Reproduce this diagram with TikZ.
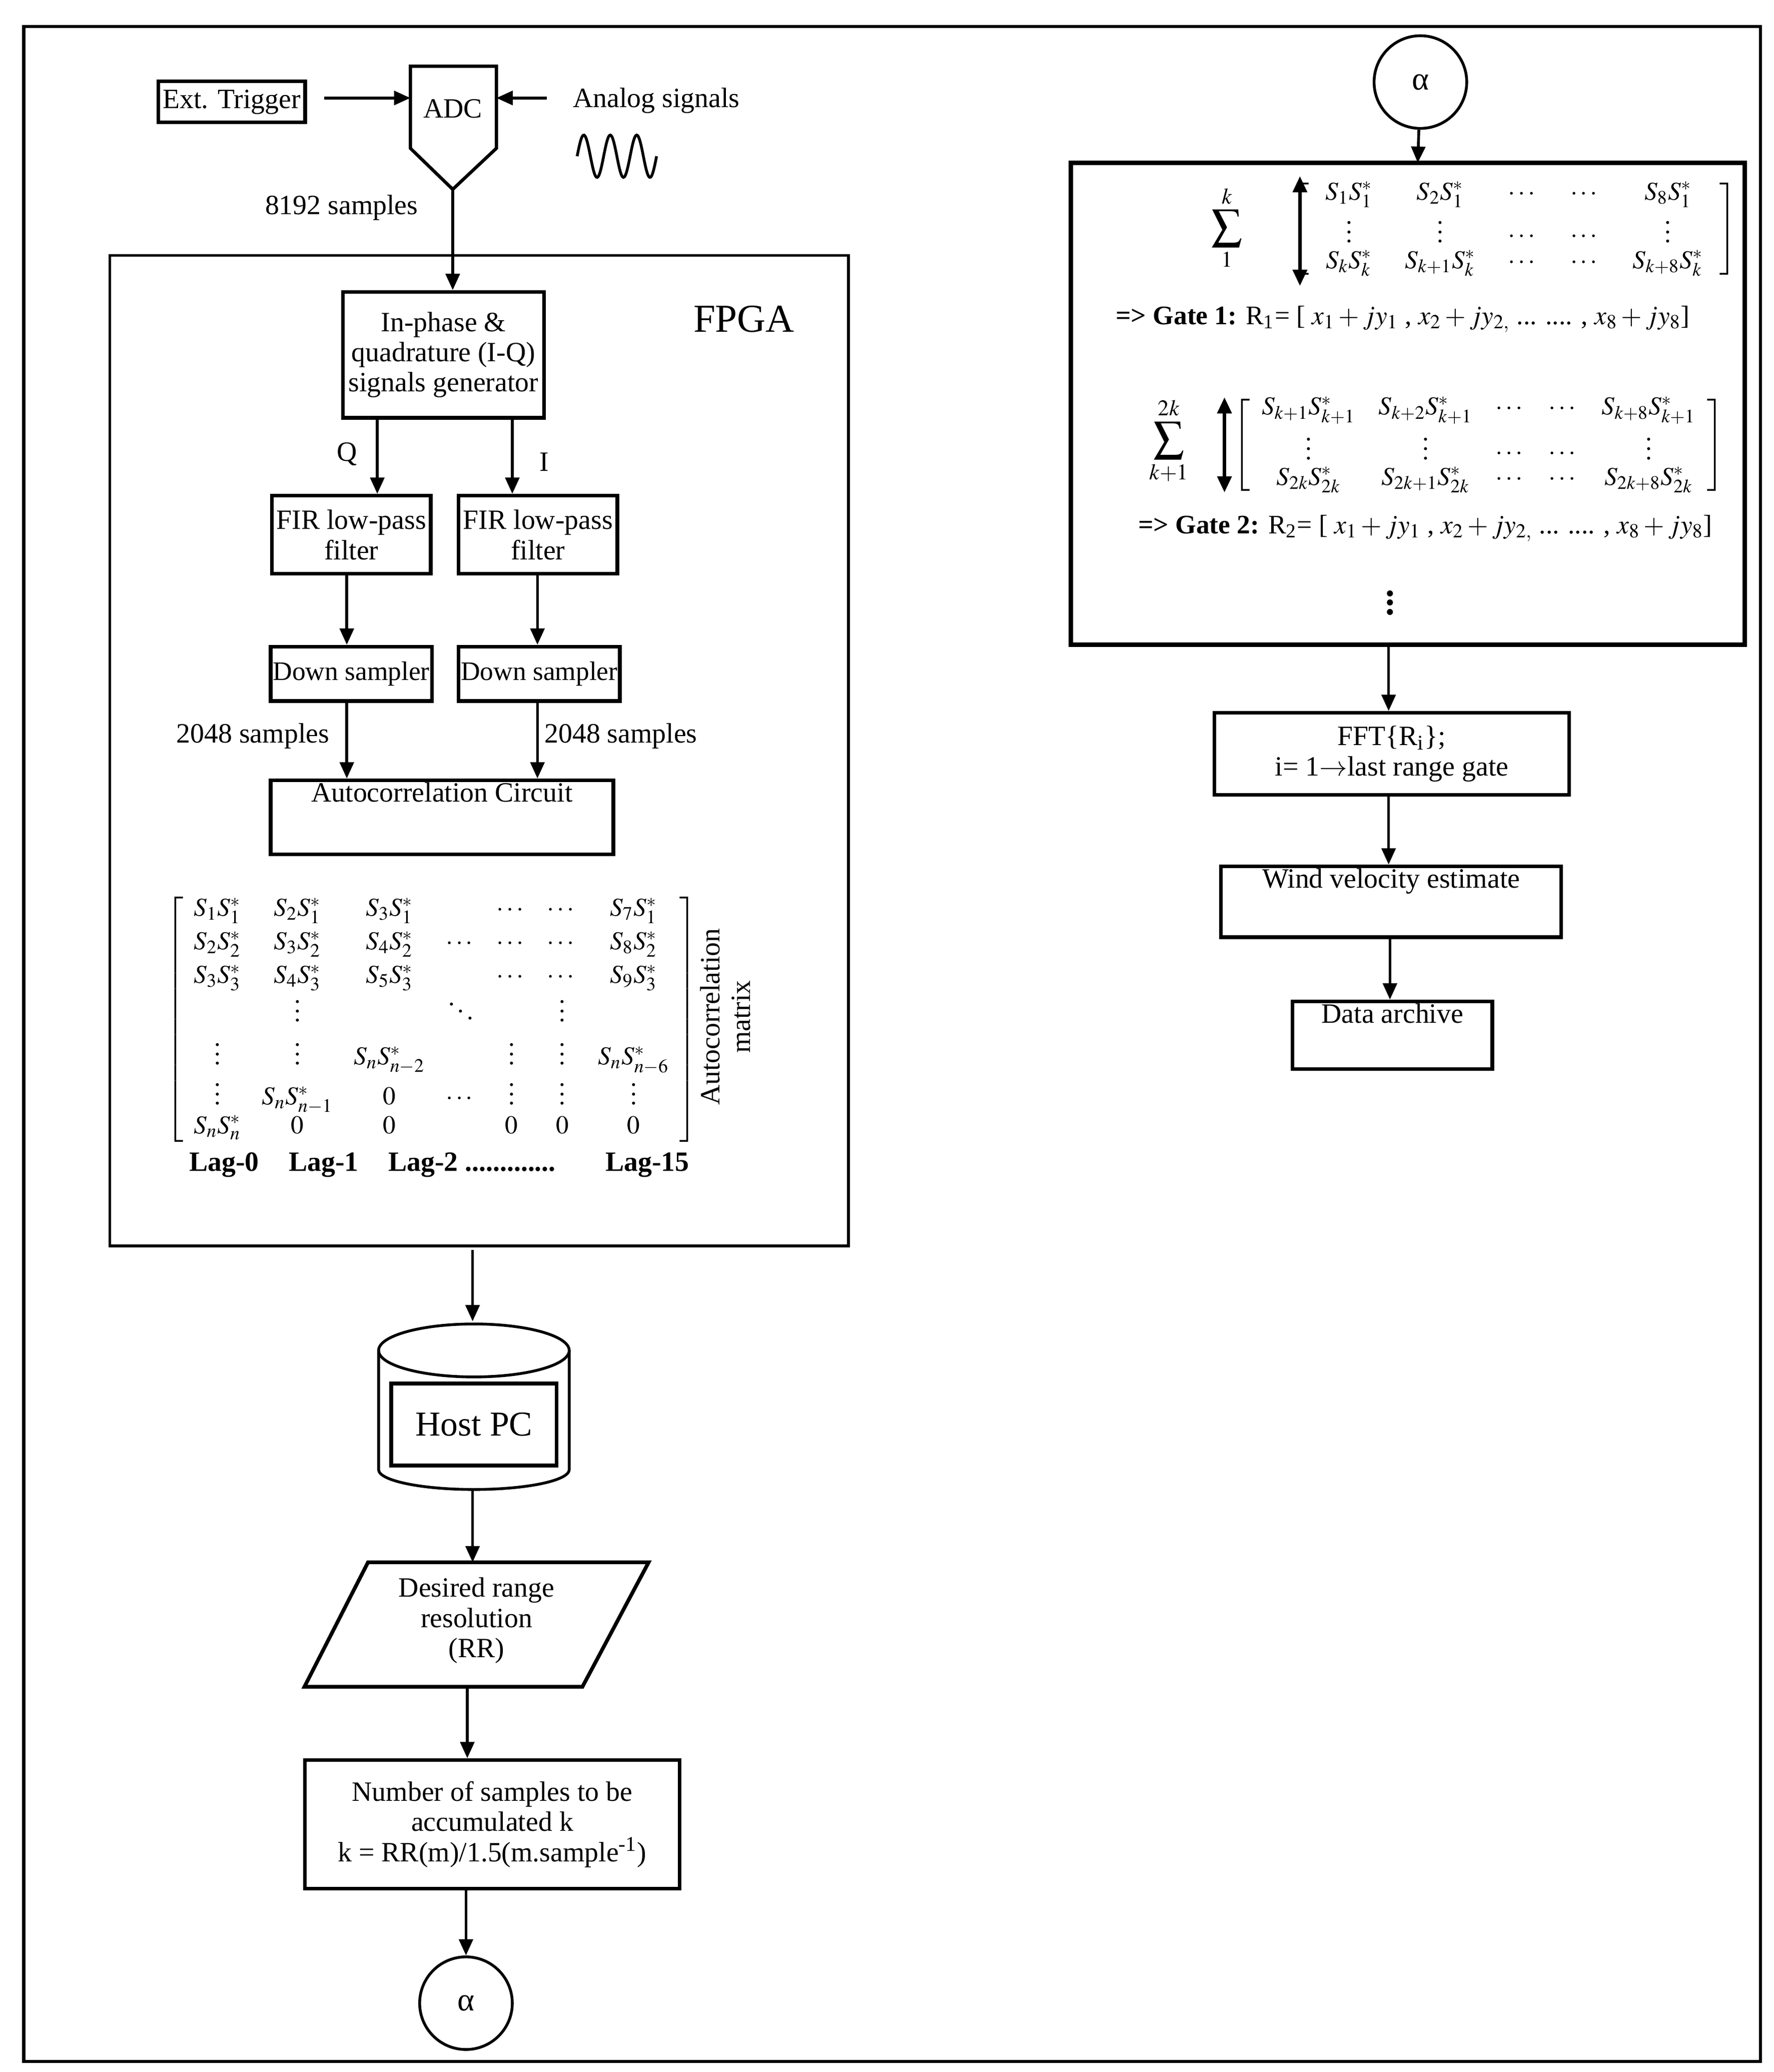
\documentclass[tikz,border=0pt]{standalone}
\usepackage{amsmath}
\usepackage{mathptmx}
\usepackage{fontspec}
\setmainfont{Liberation Serif}
\usetikzlibrary{arrows.meta}
\begin{document}
\begin{tikzpicture}[x=0.02cm, y=-0.02cm, line width=1.2pt,
  box/.style={draw, line width=1.6pt, align=center, font=\fontsize{12}{13}\selectfont, inner sep=1pt},
  lbl/.style={font=\fontsize{12}{13}\selectfont, align=center},
  arr/.style={-{Triangle[length=7pt,width=6pt]}, line width=1.2pt},
  dbl/.style={{Triangle[length=7pt,width=6pt]}-{Triangle[length=7pt,width=6pt]}, line width=1.6pt}]
% frame
\draw[line width=1.4pt] (18,20) rectangle (1330,1557);
\useasboundingbox (0,0) rectangle (1340,1565);
% ---------- left column
\node[box, minimum width=2.22cm, minimum height=0.62cm] (trig) at (175,77) {Ext. Trigger};
\draw[line width=1.4pt] (310,50) -- (375,50) -- (375,112) -- (342,143) -- (310,112) -- cycle;
\coordinate (adcW) at (310,74); \coordinate (adcE) at (375,74); \coordinate (adcS) at (342,143);
\node[lbl] (adc) at (342,82) {ADC};
\coordinate (trigE) at (245,74);
\draw[arr] (trigE) -- (adcW);
\node[lbl, anchor=west] (ana) at (426,76) {Analog signals};
\coordinate (anaW) at (413,74);
\draw[arr] (anaW) -- (adcE);
\draw[line width=1.2pt, domain=0:3*360, samples=80, smooth] plot ({436+\x/360*20},{118-16*sin(\x)});
\node[lbl] (s8192) at (258,157) {8192 samples};
% FPGA
\draw[line width=1.2pt] (83,193) rectangle (641,941);
\node[font=\fontsize{17}{18}\selectfont] (fpga) at (562,241) {FPGA};
\node[box, minimum width=3.04cm, minimum height=1.9cm] (iq) at (335,268) {In-phase \&\\quadrature (I-Q)\\signals generator};
\draw[arr] (adcS) -- (iq.north -| adcS);
\node[box, minimum width=2.4cm, minimum height=1.18cm, anchor=north west] (fir1) at (204,373) {FIR low-pass\\filter};
\node[box, minimum width=2.4cm, minimum height=1.18cm, anchor=north west] (fir2) at (345,373) {FIR low-pass\\filter};
\draw[arr] (iq.south -| 285,0) -- (fir1.north -| 285,0);
\draw[arr] (iq.south -| 387,0) -- (fir2.north -| 387,0);
\node[lbl] (q) at (262,343) {Q};
\node[lbl] (i) at (411,349) {I};
\node[box, minimum width=2.38cm, minimum height=0.82cm, anchor=north west, font=\fontsize{11.5}{12}\selectfont] (ds1) at (203,487) {Down sampler};
\node[box, minimum width=2.4cm, minimum height=0.82cm, anchor=north west, font=\fontsize{11.5}{12}\selectfont] (ds2) at (345,487) {Down sampler};
\draw[arr] (fir1.south -| 262,0) -- (ds1.north -| 262,0);
\draw[arr] (fir2.south -| 406,0) -- (ds2.north -| 406,0);
\node[box, minimum width=5.18cm, minimum height=0.92cm, anchor=north west] (ac) at (203,588) {Autocorrelation Circuit\\[0.3cm]};
\draw[arr] (ds1.south -| 262,0) -- (ac.north -| 262,0);
\draw[arr] (ds2.south -| 406,0) -- (ac.north -| 406,0);
\node[lbl] (n2048a) at (191,556) {2048 samples};
\node[lbl] (n2048b) at (469,556) {2048 samples};
% matrix
\node (mat) at (326,770) {\fontsize{11}{12}\selectfont$\setlength{\arraycolsep}{4.5pt}\renewcommand{\arraystretch}{0.95}
\left[\begin{array}{ccccccc}
S_1S_1^* & S_2S_1^* & S_3S_1^* & & \cdots & \cdots & S_7S_1^*\\[3pt]
S_2S_2^* & S_3S_2^* & S_4S_2^* & \cdots & \cdots & \cdots & S_8S_2^*\\[3pt]
S_3S_3^* & S_4S_3^* & S_5S_3^* & & \cdots & \cdots & S_9S_3^*\\[-2pt]
 & \vdots & & \ddots & & \vdots & \\
\vdots & \vdots & S_nS_{n-2}^* & & \vdots & \vdots & S_nS_{n-6}^*\\[-2pt]
\vdots & S_nS_{n-1}^* & 0 & \cdots & \vdots & \vdots & \vdots\\[1pt]
S_nS_n^* & 0 & 0 & & 0 & 0 & 0
\end{array}\right]$};
\node[lbl, rotate=90] (matl) at (548,768) {Autocorrelation\\matrix};
\node[lbl, font=\bfseries\fontsize{12}{13}\selectfont, anchor=west] (lags) at (136,880) {Lag-0\hspace{0.45cm}Lag-1\hspace{0.45cm}Lag-2 .............\hspace{0.75cm}Lag-15};
% Host PC
\coordinate (fpgaS) at (357,944);
\coordinate (pcN) at (357,998);
\draw[arr] (fpgaS) -- (pcN);
\draw[line width=1.2pt] (286,1020) -- (286,1110) arc[start angle=180, end angle=360, x radius=72, y radius=-15] -- (430,1020);
\draw[line width=1.2pt] (358,1020) ellipse[x radius=72, y radius=20];
\node[box, minimum width=2.5cm, minimum height=1.24cm, font=\fontsize{15}{16}\selectfont] (pc) at (358,1076) {Host PC};
\coordinate (pcS) at (357,1125);
\coordinate (rrN) at (357,1180);
\draw[arr] (pcS) -- (rrN);
\draw[line width=1.6pt] (278,1180) -- (490,1180) -- (440,1274) -- (230,1274) -- cycle;
\node[lbl] (rr) at (360,1224) {Desired range\\resolution\\(RR)};
\coordinate (rrS) at (353,1274);
\node[box, minimum width=5.66cm, minimum height=1.94cm, anchor=north west] (num) at (229,1328) {Number of samples to be\\accumulated k\\k = RR(m)/1.5(m.sample\textsuperscript{-1})};
\draw[arr] (rrS) -- (num.north -| rrS);
\node[draw, circle, minimum size=1.4cm, line width=1.2pt, font=\fontsize{14}{15}\selectfont] (al1) at (352,1513) {α};
\draw[arr] (num.south -| al1) -- (al1);
% ---------- right column
\node[draw, circle, minimum size=1.4cm, line width=1.2pt, font=\fontsize{14}{15}\selectfont] (al2) at (1073,62) {α};
\draw[line width=1.8pt] (809,123) rectangle (1318,487);
\coordinate (bigN) at (1071,123);
\coordinate (bigS) at (1049,487);
\draw[arr] (al2) -- (bigN);
\node (sum1) at (927,172) {\fontsize{13}{14}\selectfont$\displaystyle\sum_1^k$};
\coordinate (d1a) at (982,133); \coordinate (d1b) at (982,216);
\draw[dbl] (d1a) -- (d1b);
\node (m1) at (1144,173) {\fontsize{11}{12}\selectfont$\setlength{\arraycolsep}{7pt}\renewcommand{\arraystretch}{0.9}
\left[\begin{array}{ccccc}
S_1S_1^* & S_2S_1^* & \cdots & \cdots & S_8S_1^*\\
\vdots & \vdots & \cdots & \cdots & \vdots\\
S_kS_k^* & S_{k+1}S_k^* & \cdots & \cdots & S_{k+8}S_k^*
\end{array}\right]$};
\node[lbl, anchor=west, font=\fontsize{11.5}{12}\selectfont] (g1) at (836,241) {\textbf{=> Gate 1:} R\textsubscript{1}= [ $x_1+jy_1$ , $x_2+jy_{2,}$ ... .... , $x_8+jy_8$]};
\node (sum2) at (883,333) {\fontsize{13}{14}\selectfont$\displaystyle\sum_{k+1}^{2k}$};
\coordinate (d2a) at (925,300); \coordinate (d2b) at (925,372);
\draw[dbl] (d2a) -- (d2b);
\node (m2) at (1117,336) {\fontsize{11}{12}\selectfont$\setlength{\arraycolsep}{5pt}\renewcommand{\arraystretch}{0.9}
\left[\begin{array}{ccccc}
S_{k+1}S_{k+1}^* & S_{k+2}S_{k+1}^* & \cdots & \cdots & S_{k+8}S_{k+1}^*\\
\vdots & \vdots & \cdots & \cdots & \vdots\\
S_{2k}S_{2k}^* & S_{2k+1}S_{2k}^* & \cdots & \cdots & S_{2k+8}S_{2k}^*
\end{array}\right]$};
\node[lbl, anchor=west, font=\fontsize{11.5}{12}\selectfont] (g2) at (853,399) {\textbf{=> Gate 2:} R\textsubscript{2}= [ $x_1+jy_1$ , $x_2+jy_{2,}$ ... .... , $x_8+jy_8$]};
\node[font=\bfseries\fontsize{16}{17}\selectfont] (vd) at (1050,450) {$\vdots$};
\node[box, minimum width=5.36cm, minimum height=1.24cm, anchor=north west] (fft) at (916,537) {FFT\{R\textsubscript{i}\};\\i= 1$\rightarrow$last range gate};
\draw[arr] (bigS) -- (fft.north -| bigS);
\node[box, minimum width=5.14cm, minimum height=0.96cm, anchor=north west] (wind) at (921,653) {Wind velocity estimate\\[0.25cm]};
\draw[arr] (fft.south -| 1049,0) -- (wind.north -| 1049,0);
\node[box, minimum width=3.02cm, minimum height=0.88cm, anchor=north west] (arch) at (975,755) {Data archive\\[0.2cm]};
\draw[arr] (wind.south -| 1050,0) -- (arch.north -| 1050,0);
\end{tikzpicture}
\end{document}
